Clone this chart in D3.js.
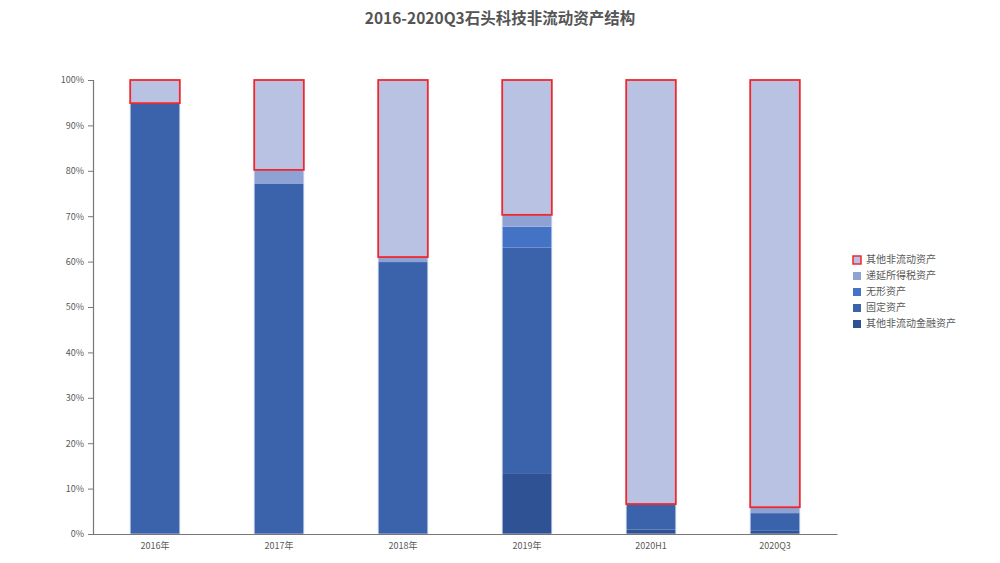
<!DOCTYPE html>
<html>
<head>
<meta charset="utf-8">
<script src="https://cdn.jsdelivr.net/npm/d3@7"></script>
<style>
  body { margin: 0; background: #fff; }
  text { font-family: "Noto Sans CJK SC", "Noto Sans", sans-serif; }
</style>
</head>
<body>
<div id="chart-area"></div>
<script>
const width = 1000;
const height = 563;

// categories and series (% of non-current assets)
const periods = ["2016年", "2017年", "2018年", "2019年", "2020H1", "2020Q3"];
const seriesNames = ["其他非流动金融资产", "固定资产", "无形资产", "递延所得税资产", "其他非流动资产"];
const otherFinancial = [0, 0, 0, 13.4, 1.0, 0.7];
const fixedAssets = [94.9, 77.1, 59.9, 49.7, 5.4, 3.9];
const intangible = [0, 0, 0, 4.6, 0.2, 0];
const deferredTax = [0, 3.1, 1.1, 2.6, 0, 1.3];
const otherNonCurrent = [5.1, 19.8, 39.0, 29.7, 93.4, 94.1];
const yTicks = [0, 10, 20, 30, 40, 50, 60, 70, 80, 90, 100];

const colors = ["#2f5294", "#3a63ab", "#4472c4", "#8fa2d4", "#b9c2e2"];

const table = periods.map((p, i) => ({
    period: p,
    "其他非流动金融资产": otherFinancial[i],
    "固定资产": fixedAssets[i],
    "无形资产": intangible[i],
    "递延所得税资产": deferredTax[i],
    "其他非流动资产": otherNonCurrent[i]
}));

const margin = {left: 93, right: 163, top: 80, bottom: 29};

const svg = d3.select("#chart-area")
    .append("svg")
        .attr("width", width)
        .attr("height", height);

const x = d3.scaleBand()
    .domain(periods)
    .range([margin.left, width - margin.right])
    .paddingInner(0.6)
    .paddingOuter(0.3);

const y = d3.scaleLinear()
    .domain([0, 100])
    .range([height - margin.bottom, margin.top]);

const layers = d3.stack().keys(seriesNames)(table);

// title
svg.append("text")
    .attr("x", 500)
    .attr("y", 24)
    .attr("text-anchor", "middle")
    .style("font-size", "15.5px")
    .style("font-weight", "bold")
    .style("fill", "#555")
    .text("2016-2020Q3石头科技非流动资产结构");

// bars
const groups = svg.selectAll("g.layer")
    .data(layers)
    .enter()
    .append("g")
        .attr("class", "layer")
        .attr("fill", (d, i) => colors[i]);

groups.selectAll("rect")
    .data(d => d.filter(s => s[1] - s[0] > 0))
    .enter()
    .append("rect")
        .attr("x", d => x(d.data.period))
        .attr("width", x.bandwidth())
        .attr("y", d => y(d[1]))
        .attr("height", d => y(d[0]) - y(d[1]));

// faint light edges on each whole bar
svg.selectAll("rect.edge")
    .data(periods)
    .enter()
    .append("rect")
        .attr("class", "edge")
        .attr("x", d => x(d))
        .attr("width", x.bandwidth())
        .attr("y", y(100))
        .attr("height", y(0) - y(100))
        .attr("fill", "none")
        .attr("stroke", "#c9d3ec")
        .attr("stroke-width", 0.8);

// red outline for 其他非流动资产
svg.selectAll("rect.hl")
    .data(layers[4])
    .enter()
    .append("rect")
        .attr("class", "hl")
        .attr("x", d => x(d.data.period))
        .attr("width", x.bandwidth())
        .attr("y", d => y(d[1]))
        .attr("height", d => y(d[0]) - y(d[1]))
        .attr("fill", "none")
        .attr("stroke", "#f0282d")
        .attr("stroke-width", 1.8);

// y axis
const yAxis = svg.append("g")
    .attr("transform", `translate(${margin.left},0)`)
    .call(d3.axisLeft(y).tickValues(yTicks).tickFormat(d => d + "%").tickSize(5).tickPadding(4));
yAxis.select(".domain").attr("stroke", "#777").attr("stroke-width", 1.2);
yAxis.selectAll(".tick line").attr("stroke", "#777");
yAxis.selectAll(".tick text")
    .style("font-size", "9px")
    .style("fill", "#595959")
    .style("font-family", "'Noto Sans CJK SC', sans-serif");

// x axis
const xAxis = svg.append("g")
    .attr("transform", `translate(0,${height - margin.bottom})`)
    .call(d3.axisBottom(x).tickSize(0).tickPadding(9));
xAxis.select(".domain").attr("stroke", "#777").attr("stroke-width", 1.2);
xAxis.selectAll(".tick text")
    .style("font-size", "9px")
    .style("fill", "#595959");

// legend (top item = 其他非流动资产)
const legendItems = seriesNames.map((n, i) => ({name: n, color: colors[i], idx: i})).reverse();
const legend = svg.selectAll("g.legend")
    .data(legendItems)
    .enter()
    .append("g")
        .attr("class", "legend")
        .attr("transform", (d, i) => `translate(853,${260 + i * 16})`);

legend.append("rect")
    .attr("x", 0)
    .attr("y", -4)
    .attr("width", 8)
    .attr("height", 8)
    .attr("fill", d => d.color)
    .attr("stroke", d => d.idx === 4 ? "#f0282d" : "none")
    .attr("stroke-width", 1.5);

legend.append("text")
    .attr("x", 13)
    .attr("y", 0)
    .style("font-size", "10px")
    .style("fill", "#595959")
    .style("dominant-baseline", "middle")
    .text(d => d.name);
</script>
</body>
</html>
